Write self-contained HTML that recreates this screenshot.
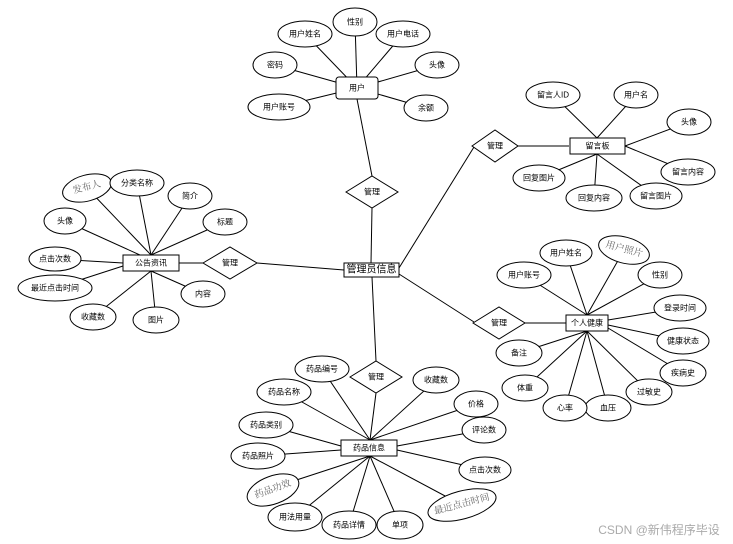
<!DOCTYPE html>
<html><head><meta charset="utf-8">
<style>
html,body{margin:0;padding:0;background:#fff;}
svg{display:block;}
text{font-family:"Liberation Sans","Noto Sans CJK SC",sans-serif;font-size:8px;fill:#000;text-anchor:middle;dominant-baseline:central;}
.g{fill:#666;font-family:"Liberation Serif","Noto Serif CJK SC",serif;font-size:9.5px;}
ellipse,rect,polygon{fill:#fff;stroke:#000;stroke-width:1;}
line{stroke:#000;stroke-width:1;}
</style></head><body>
<svg width="733" height="544" viewBox="0 0 733 544" xmlns="http://www.w3.org/2000/svg">
<line x1="357" y1="88" x2="305" y2="34"/><line x1="357" y1="88" x2="355" y2="22"/><line x1="357" y1="88" x2="403" y2="34"/>
<line x1="357" y1="88" x2="275" y2="65"/><line x1="357" y1="88" x2="437" y2="65"/><line x1="357" y1="88" x2="279" y2="107"/><line x1="357" y1="88" x2="426" y2="108"/>
<line x1="357" y1="99" x2="372" y2="176"/><line x1="372" y1="208" x2="371" y2="263"/>
<line x1="597" y1="138" x2="553" y2="95"/><line x1="597" y1="138" x2="636" y2="95"/><line x1="625" y1="146" x2="689" y2="122"/>
<line x1="625" y1="146" x2="688" y2="172"/><line x1="597" y1="154" x2="656" y2="196"/><line x1="597" y1="154" x2="594" y2="198"/><line x1="597" y1="154" x2="539" y2="178"/>
<line x1="399" y1="268" x2="474" y2="147"/><line x1="518" y1="146" x2="569" y2="146"/>
<line x1="151" y1="255" x2="87" y2="188"/><line x1="151" y1="255" x2="137" y2="183"/><line x1="151" y1="255" x2="190" y2="196"/><line x1="151" y1="255" x2="225" y2="222"/>
<line x1="151" y1="260" x2="65" y2="221"/><line x1="123" y1="263" x2="55" y2="259"/><line x1="123" y1="266" x2="55" y2="288"/><line x1="151" y1="271" x2="93" y2="317"/>
<line x1="151" y1="271" x2="156" y2="320"/><line x1="151" y1="271" x2="203" y2="294"/>
<line x1="179" y1="263" x2="203" y2="263"/><line x1="257" y1="263" x2="344" y2="270"/>
<line x1="587" y1="315" x2="566" y2="253"/><line x1="587" y1="315" x2="624" y2="250"/><line x1="587" y1="315" x2="660" y2="275"/><line x1="608" y1="320" x2="680" y2="308"/>
<line x1="608" y1="325" x2="683" y2="341"/><line x1="608" y1="328" x2="683" y2="373"/><line x1="587" y1="331" x2="649" y2="392"/><line x1="587" y1="331" x2="608" y2="408"/>
<line x1="587" y1="331" x2="565" y2="408"/><line x1="587" y1="331" x2="525" y2="388"/><line x1="587" y1="331" x2="519" y2="353"/><line x1="587" y1="315" x2="524" y2="275"/>
<line x1="399" y1="274" x2="474" y2="322"/><line x1="525" y1="323" x2="566" y2="323"/>
<line x1="370" y1="440" x2="322" y2="369"/><line x1="370" y1="440" x2="436" y2="380"/><line x1="370" y1="440" x2="284" y2="392"/><line x1="370" y1="440" x2="476" y2="404"/>
<line x1="397" y1="446" x2="484" y2="430"/><line x1="341" y1="446" x2="266" y2="425"/><line x1="341" y1="450" x2="258" y2="456"/><line x1="397" y1="450" x2="485" y2="470"/>
<line x1="370" y1="456" x2="272" y2="488"/><line x1="370" y1="456" x2="295" y2="517"/><line x1="370" y1="456" x2="349" y2="525"/><line x1="370" y1="456" x2="400" y2="525"/><line x1="370" y1="456" x2="462" y2="505"/>
<line x1="372" y1="277" x2="376" y2="361"/><line x1="376" y1="393" x2="370" y2="440"/>

<rect x="344" y="263" width="55" height="14"/><text x="371.5" y="270" style="font-size:10px">管理员信息</text>

<rect x="336" y="77" width="42" height="22" rx="3"/><text x="357" y="88">用户</text>
<ellipse cx="305" cy="34" rx="27" ry="13"/><text x="305" y="34">用户姓名</text>
<ellipse cx="355" cy="22" rx="22" ry="14"/><text x="355" y="22">性别</text>
<ellipse cx="403" cy="34" rx="27" ry="13"/><text x="403" y="34">用户电话</text>
<ellipse cx="275" cy="65" rx="22" ry="13"/><text x="275" y="65">密码</text>
<ellipse cx="437" cy="65" rx="22" ry="13"/><text x="437" y="65">头像</text>
<ellipse cx="279" cy="107" rx="31" ry="13"/><text x="279" y="107">用户账号</text>
<ellipse cx="426" cy="108" rx="22" ry="13"/><text x="426" y="108">余额</text>
<polygon points="346,192 372,176 398,192 372,208"/><text x="372" y="192">管理</text>

<rect x="570" y="138" width="55" height="16"/><text x="597.5" y="146">留言板</text>
<polygon points="472,146 495,130 518,146 495,162"/><text x="495" y="146">管理</text>
<ellipse cx="553" cy="95" rx="27" ry="13"/><text x="553" y="95">留言人ID</text>
<ellipse cx="636" cy="95" rx="22" ry="13"/><text x="636" y="95">用户名</text>
<ellipse cx="689" cy="122" rx="22" ry="13"/><text x="689" y="122">头像</text>
<ellipse cx="688" cy="172" rx="27" ry="13"/><text x="688" y="172">留言内容</text>
<ellipse cx="656" cy="196" rx="26" ry="13"/><text x="656" y="196">留言图片</text>
<ellipse cx="594" cy="198" rx="28" ry="13"/><text x="594" y="198">回复内容</text>
<ellipse cx="539" cy="178" rx="26" ry="13"/><text x="539" y="178">回复图片</text>

<rect x="123" y="255" width="56" height="16"/><text x="151" y="263">公告资讯</text>
<polygon points="203,263 230,247 257,263 230,279"/><text x="230" y="263">管理</text>
<ellipse cx="87" cy="188" rx="25" ry="13" transform="rotate(-15 87 188)"/><text class="g" x="87" y="188" transform="rotate(-15 87 188)">发布人</text>
<ellipse cx="137" cy="183" rx="27" ry="13"/><text x="137" y="183">分类名称</text>
<ellipse cx="190" cy="196" rx="22" ry="13"/><text x="190" y="196">简介</text>
<ellipse cx="225" cy="222" rx="22" ry="13"/><text x="225" y="222">标题</text>
<ellipse cx="65" cy="221" rx="21" ry="13"/><text x="65" y="221">头像</text>
<ellipse cx="55" cy="259" rx="26" ry="12"/><text x="55" y="259">点击次数</text>
<ellipse cx="55" cy="288" rx="37" ry="13"/><text x="55" y="288">最近点击时间</text>
<ellipse cx="93" cy="317" rx="23" ry="13"/><text x="93" y="317">收藏数</text>
<ellipse cx="156" cy="320" rx="23" ry="13"/><text x="156" y="320">图片</text>
<ellipse cx="203" cy="294" rx="22" ry="13"/><text x="203" y="294">内容</text>

<rect x="566" y="315" width="42" height="16"/><text x="587" y="323">个人健康</text>
<polygon points="473,323 499,307 525,323 499,339"/><text x="499" y="323">管理</text>
<ellipse cx="566" cy="253" rx="26" ry="13"/><text x="566" y="253">用户姓名</text>
<ellipse cx="624" cy="250" rx="26" ry="13" transform="rotate(15 624 250)"/><text class="g" x="624" y="250" transform="rotate(15 624 250)">用户照片</text>
<ellipse cx="660" cy="275" rx="22" ry="13"/><text x="660" y="275">性别</text>
<ellipse cx="680" cy="308" rx="26" ry="13"/><text x="680" y="308">登录时间</text>
<ellipse cx="683" cy="341" rx="26" ry="13"/><text x="683" y="341">健康状态</text>
<ellipse cx="683" cy="373" rx="23" ry="13"/><text x="683" y="373">疾病史</text>
<ellipse cx="649" cy="392" rx="23" ry="13"/><text x="649" y="392">过敏史</text>
<ellipse cx="608" cy="408" rx="23" ry="13"/><text x="608" y="408">血压</text>
<ellipse cx="565" cy="408" rx="22" ry="13"/><text x="565" y="408">心率</text>
<ellipse cx="525" cy="388" rx="23" ry="13"/><text x="525" y="388">体重</text>
<ellipse cx="519" cy="353" rx="23" ry="13"/><text x="519" y="353">备注</text>
<ellipse cx="524" cy="275" rx="27" ry="13"/><text x="524" y="275">用户账号</text>

<rect x="341" y="440" width="56" height="16"/><text x="369" y="448">药品信息</text>
<polygon points="350,377 376,361 402,377 376,393"/><text x="376" y="377">管理</text>
<ellipse cx="322" cy="369" rx="27" ry="13"/><text x="322" y="369">药品编号</text>
<ellipse cx="436" cy="380" rx="23" ry="13"/><text x="436" y="380">收藏数</text>
<ellipse cx="284" cy="392" rx="27" ry="13"/><text x="284" y="392">药品名称</text>
<ellipse cx="476" cy="404" rx="22" ry="13"/><text x="476" y="404">价格</text>
<ellipse cx="484" cy="430" rx="22" ry="13"/><text x="484" y="430">评论数</text>
<ellipse cx="266" cy="425" rx="27" ry="13"/><text x="266" y="425">药品类别</text>
<ellipse cx="258" cy="456" rx="27" ry="13"/><text x="258" y="456">药品照片</text>
<ellipse cx="485" cy="470" rx="26" ry="13"/><text x="485" y="470">点击次数</text>
<ellipse cx="273" cy="490" rx="27" ry="14" transform="rotate(-20 273 490)"/><text class="g" x="273" y="490" transform="rotate(-20 273 490)">药品功效</text>
<ellipse cx="295" cy="517" rx="27" ry="14"/><text x="295" y="517">用法用量</text>
<ellipse cx="349" cy="525" rx="27" ry="14"/><text x="349" y="525">药品详情</text>
<ellipse cx="400" cy="525" rx="23" ry="14"/><text x="400" y="525">单项</text>
<ellipse cx="462" cy="505" rx="35" ry="14" transform="rotate(-15 462 505)"/><text class="g" x="462" y="505" transform="rotate(-15 462 505)">最近点击时间</text>

<text x="659" y="530" style="font-size:12px;fill:#aaa">CSDN @新伟程序毕设</text>
</svg>
</body></html>
